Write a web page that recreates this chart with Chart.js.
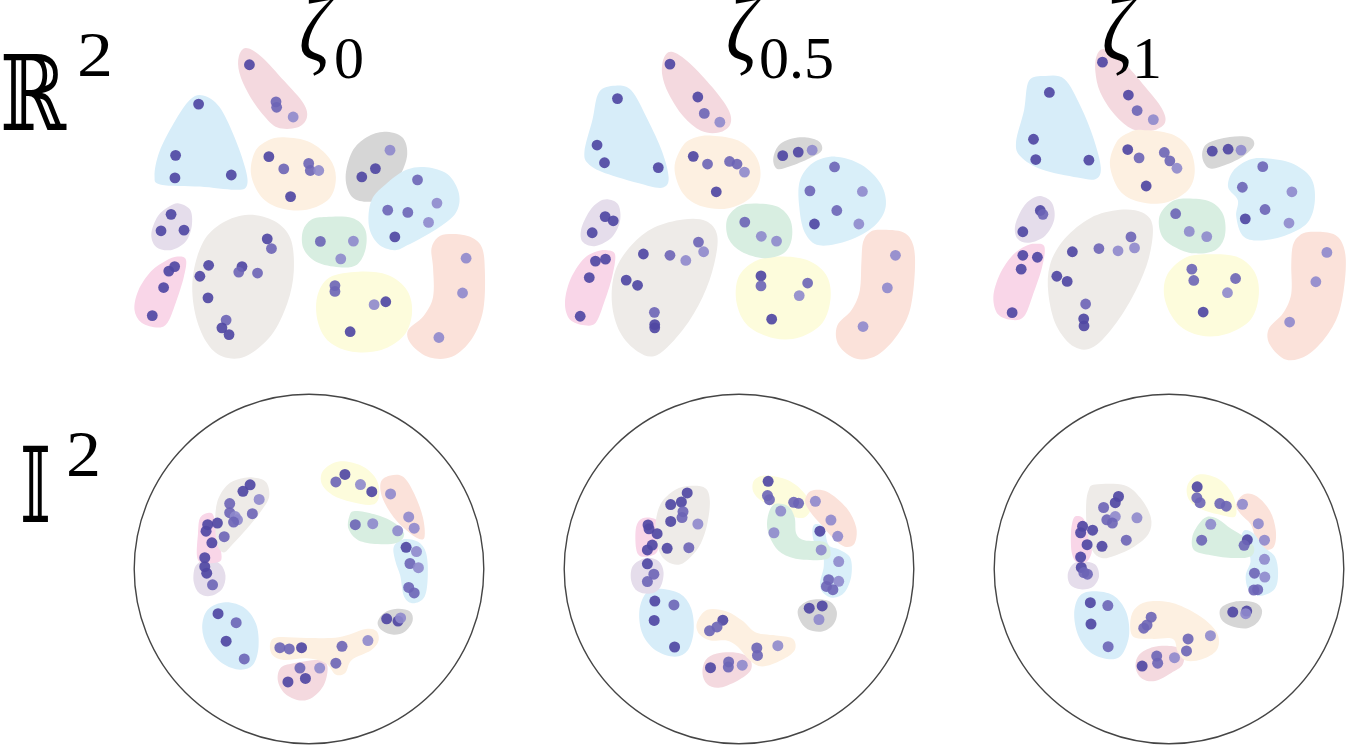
<!DOCTYPE html>
<html>
<head>
<meta charset="utf-8">
<script src="https://cdn.jsdelivr.net/npm/chart.js@4.4.0/dist/chart.umd.min.js"></script>
<style>
  body { margin: 0; background: #fff; overflow: hidden; }
  #page { position: relative; width: 1353px; height: 752px; overflow: hidden; }
  canvas { position: absolute; }
  #labels { position: absolute; left: 0; top: 0; pointer-events: none; }
</style>
</head>
<body>
<div id="page">
  <canvas id="flat0" width="380" height="330" style="left:120px;top:40px"></canvas>
  <canvas id="flat1" width="385" height="330" style="left:545px;top:40px"></canvas>
  <canvas id="flat2" width="378" height="330" style="left:975px;top:40px"></canvas>
  <canvas id="disk0" width="380" height="380" style="left:119px;top:379px"></canvas>
  <canvas id="disk1" width="380" height="380" style="left:549px;top:379px"></canvas>
  <canvas id="disk2" width="380" height="380" style="left:979px;top:379px"></canvas>
  <svg id="labels" width="1353" height="752">
    <text x="0" y="130" font-family="DejaVu Serif" font-size="104" textLength="66" lengthAdjust="spacingAndGlyphs">ℝ</text>
    <text x="77" y="76" font-family="Liberation Serif" font-size="64" textLength="36" lengthAdjust="spacingAndGlyphs">2</text>
    <text x="20" y="522" font-family="DejaVu Serif, DejaVu Sans" font-size="104" textLength="31" lengthAdjust="spacingAndGlyphs">𝕀</text>
    <text x="66" y="476" font-family="Liberation Serif" font-size="66" textLength="35" lengthAdjust="spacingAndGlyphs">2</text>
    <text x="299" y="60" font-family="Liberation Serif" font-style="italic" font-size="90" textLength="31" lengthAdjust="spacingAndGlyphs">ζ</text>
    <text x="334" y="78" font-family="Liberation Serif" font-size="60">0</text>
    <text x="726" y="60" font-family="Liberation Serif" font-style="italic" font-size="90" textLength="31" lengthAdjust="spacingAndGlyphs">ζ</text>
    <text x="759" y="78" font-family="Liberation Serif" font-size="60">0.5</text>
    <text x="1102" y="60" font-family="Liberation Serif" font-style="italic" font-size="90" textLength="31" lengthAdjust="spacingAndGlyphs">ζ</text>
    <text x="1132" y="78" font-family="Liberation Serif" font-size="60">1</text>
  </svg>
</div>
<script>
// cluster order (also the order the blobs are painted)
const clusters = ['rose', 'sky', 'peach', 'gray', 'lemon', 'salmon', 'azure', 'mint', 'lilac', 'pink', 'stone'];

// ---- R^2 panels: [x, y, shade], y grows downward ----
const flatPoints0 = [
  [[383,60,0],[465,175,1],[467,192,1],[518,222,2]],
  [[226,182,0],[155,341,0],[153,411,0],[327,402,0]],
  [[443,345,0],[489,383,1],[566,366,1],[571,388,1],[597,388,2],[510,469,0]],
  [[817,325,2],[772,382,0],[730,408,0]],
  [[647,745,1],[647,763,1],[768,804,2],[804,795,0],[694,888,0]],
  [[1052,660,2],[1041,768,2],[968,906,2]],
  [[902,417,1],[810,511,1],[872,518,1],[962,489,2],[936,549,2],[832,594,0]],
  [[602,608,1],[704,607,2],[665,662,2]],
  [[141,524,0],[110,575,0],[181,573,0]],
  [[152,686,0],[134,700,0],[118,751,0],[83,838,0]],
  [[438,600,0],[451,630,1],[257,682,0],[230,716,0],[360,686,0],[350,703,1],[408,706,1],[255,783,0],[311,852,1],[298,876,0],[320,897,0]]
];
const flatHulls0 = [
  [[372,8],[420,35],[490,110],[550,180],[560,225],[530,255],[470,255],[425,215],[380,150],[352,85],[350,35]],
  [[240,155],[290,190],[335,280],[370,380],[375,435],[340,448],[230,438],[110,432],[90,405],[105,330],[150,240],[200,168]],
  [[490,285],[570,300],[630,350],[650,410],[630,475],[560,510],[480,505],[420,470],[388,400],[400,330],[440,295]],
  [[800,268],[855,285],[870,340],[845,410],[800,470],[750,485],[700,470],[680,410],[700,330],[745,285]],
  [[720,702],[810,712],[870,760],[885,830],[860,900],[790,945],[700,950],[630,920],[595,860],[592,780],[630,720]],
  [[1000,585],[1060,592],[1100,625],[1110,700],[1105,820],[1070,910],[1010,965],[940,968],[885,930],[872,885],[920,840],[950,780],[950,690],[945,630],[965,595]],
  [[930,378],[995,400],[1030,460],[1020,520],[960,570],[870,620],[830,635],[780,615],[752,560],[760,480],[810,425],[870,385]],
  [[620,532],[700,535],[740,570],[742,630],[715,680],[660,688],[590,672],[550,630],[548,575],[575,540]],
  [[165,490],[200,510],[205,560],[185,610],[140,635],[95,625],[80,585],[100,530],[135,500]],
  [[160,655],[187,665],[180,720],[155,800],[130,860],[100,875],[50,860],[28,820],[40,760],[80,700],[125,668]],
  [[380,525],[460,545],[510,600],[520,700],[500,800],[450,900],[370,965],[300,965],[250,920],[215,830],[208,720],[240,610],[300,550]]
];

const flatPoints1 = [
  [[369,58,0],[455,160,0],[475,211,1],[523,238,2]],
  [[207,165,0],[144,309,0],[167,364,0],[333,379,0]],
  [[441,344,0],[485,368,1],[553,360,1],[576,368,1],[599,393,2],[512,454,0]],
  [[717,342,0],[765,331,0],[808,325,2]],
  [[650,715,0],[650,746,1],[794,737,1],[768,776,2],[683,849,0]],
  [[1065,651,2],[1040,752,2],[965,872,2]],
  [[877,377,1],[801,451,1],[963,453,2],[884,512,1],[815,554,0],[952,554,2]],
  [[600,548,1],[651,592,2],[698,607,2]],
  [[169,531,0],[194,544,0],[129,581,0]],
  [[139,669,0],[170,663,0],[120,720,0],[92,840,0]],
  [[287,647,0],[369,651,1],[418,667,2],[457,610,1],[473,640,2],[234,728,0],[269,744,0],[321,828,1],[322,866,0],[322,876,0]]
];
const flatHulls1 = [
  [[375,20],[430,55],[500,130],[550,200],[555,245],[520,270],[465,265],[410,220],[365,150],[345,90],[350,40]],
  [[200,125],[250,140],[300,230],[345,330],[365,410],[350,440],[300,435],[180,400],[120,370],[105,330],[130,230],[150,145]],
  [[500,280],[580,295],[635,345],[648,410],[620,470],[550,505],[470,500],[410,460],[383,380],[410,310],[450,285]],
  [[770,285],[825,295],[838,325],[800,350],[740,375],[700,383],[688,350],[710,305]],
  [[700,655],[790,665],[850,710],[865,780],[840,860],[770,905],[690,908],[610,870],[575,800],[580,720],[630,670]],
  [[1020,572],[1090,580],[1120,620],[1125,700],[1110,820],[1070,900],[1010,960],[945,972],[890,930],[885,870],[930,820],[955,760],[960,670],[965,610],[985,580]],
  [[880,345],[960,370],[1020,430],[1035,500],[1000,560],[920,605],[830,620],[785,580],[768,500],[770,420],[810,365]],
  [[630,490],[700,500],[740,540],[745,600],[720,645],[660,660],[590,640],[550,600],[545,540],[580,500]],
  [[180,478],[210,495],[215,545],[190,595],[140,622],[100,610],[95,570],[120,515],[150,485]],
  [[175,635],[200,650],[190,720],[165,800],[140,860],[105,868],[60,850],[45,800],[60,730],[100,665],[140,640]],
  [[410,540],[480,545],[515,590],[505,680],[470,780],[410,880],[330,960],[270,950],[215,890],[190,800],[200,700],[250,620],[320,565]]
];

const flatPoints2 = [
  [[377,52,0],[457,154,0],[484,202,1],[534,230,2]],
  [[213,146,0],[164,291,0],[171,354,0],[335,356,0]],
  [[455,323,0],[490,349,1],[568,332,1],[585,358,1],[607,381,2],[512,436,0]],
  [[716,328,0],[765,322,0],[805,325,2]],
  [[653,694,1],[659,729,1],[788,723,1],[763,767,2],[688,827,0]],
  [[1070,642,2],[1036,733,2],[955,858,2]],
  [[872,376,1],[809,440,1],[962,454,2],[879,509,1],[818,538,0],[953,551,2]],
  [[603,522,1],[645,577,2],[699,593,2]],
  [[185,512,0],[193,524,1],[131,578,0]],
  [[131,651,0],[176,657,0],[126,694,0],[98,829,0]],
  [[284,640,0],[366,630,1],[425,637,2],[465,594,1],[476,628,2],[236,716,0],[268,732,0],[325,802,1],[319,848,0],[320,870,0]]
];
const flatHulls2 = [
  [[385,12],[440,50],[510,130],[560,195],[570,240],[530,265],[470,260],[415,215],[370,145],[355,80],[360,30]],
  [[200,95],[260,105],[310,190],[350,290],[372,380],[355,415],[300,410],[190,385],[125,345],[110,300],[135,200],[150,110]],
  [[500,262],[590,275],[645,320],[662,390],[640,450],[570,488],[490,485],[430,450],[400,370],[420,300],[460,270]],
  [[770,284],[830,285],[845,310],[810,345],[745,375],[705,380],[685,345],[700,305]],
  [[700,648],[790,655],[845,700],[860,770],[835,850],[760,895],[680,900],[610,865],[570,790],[575,715],[630,660]],
  [[1020,578],[1090,585],[1122,625],[1128,700],[1110,820],[1070,900],[1010,960],[945,975],[895,930],[890,880],[935,830],[960,770],[960,680],[965,620],[985,590]],
  [[880,350],[960,365],[1020,410],[1033,480],[1010,550],[940,590],[860,605],[810,590],[790,530],[795,480],[765,440],[780,390],[830,355]],
  [[640,475],[710,485],[750,525],[755,590],[725,635],[660,645],[600,625],[560,590],[553,530],[590,485]],
  [[190,468],[222,490],[228,540],[200,590],[150,612],[115,600],[107,560],[130,505],[160,475]],
  [[170,615],[198,625],[190,690],[160,780],[135,840],[100,852],[55,835],[40,780],[60,710],[100,650],[140,622]],
  [[430,510],[500,518],[532,560],[520,660],[480,760],[420,860],[350,935],[290,935],[235,870],[210,770],[215,680],[260,600],[340,535]]
];

// ---- I^2 panels: disk centred on 0, boundary radius DISK_R, y grows upward ----
const DISK_R = 540;
const diskPoints0 = [
  [[-28,-306,1],[33,-306,2],[-11,-338,0],[-65,-349,0]],
  [[-281,-138,0],[-225,-166,1],[-256,-223,0],[-200,-278,1]],
  [[-90,-243,1],[-61,-247,1],[-23,-243,0],[102,-239,1],[182,-221,2],[83,-291,1]],
  [[240,-154,0],[275,-161,0],[283,-151,2]],
  [[111,292,0],[83,269,1],[159,261,2],[194,239,0]],
  [[252,232,2],[308,161,2],[325,126,2]],
  [[300,67,0],[332,54,2],[312,17,1],[338,4,2],[308,-57,1],[325,-74,1]],
  [[143,137,1],[197,140,2],[274,118,2]],
  [[-322,7,0],[-316,-13,0],[-298,-49,1]],
  [[-313,137,0],[-283,142,0],[-318,117,0],[-300,81,0],[-322,35,0]],
  [[-182,260,0],[-204,240,0],[-154,215,2],[-245,202,1],[-245,174,1],[-228,162,2],[-221,152,2],[-233,145,1],[-175,171,1],[-262,100,1]]
];
const diskHulls0 = [
  [[-48,-291],[32,-281],[57,-301],[47,-356],[12,-396],[-28,-406],[-73,-386],[-96,-346],[-88,-306]],
  [[-258,-103],[-198,-121],[-163,-171],[-156,-241],[-173,-296],[-213,-311],[-268,-291],[-313,-241],[-330,-181],[-313,-126]],
  [[-98,-211],[-8,-213],[92,-211],[172,-186],[207,-191],[215,-221],[192,-251],[132,-281],[112,-321],[82,-326],[52,-291],[-8,-276],[-78,-281],[-113,-266],[-120,-231]],
  [[272,-123],[312,-131],[320,-161],[297,-193],[262,-203],[227,-191],[212,-166],[232,-136]],
  [[92,332],[162,319],[207,279],[217,229],[197,199],[132,207],[72,229],[39,264],[44,304]],
  [[252,289],[292,284],[327,229],[352,159],[357,99],[337,94],[302,119],[262,159],[227,219],[222,269]],
  [[292,92],[337,84],[362,49],[367,-21],[357,-86],[322,-106],[294,-86],[282,-21],[267,24],[262,69]],
  [[142,179],[202,169],[262,144],[294,109],[272,81],[212,77],[152,89],[122,124],[125,164]],
  [[-308,29],[-273,14],[-258,-21],[-268,-61],[-303,-83],[-338,-76],[-356,-41],[-353,4],[-333,24]],
  [[-306,174],[-293,159],[-283,109],[-270,39],[-283,21],[-328,19],[-346,39],[-343,109],[-336,159]],
  [[-173,283],[-133,269],[-123,224],[-148,179],[-188,129],[-238,74],[-263,51],[-283,74],[-290,139],[-283,209],[-253,259],[-213,279]]
];

const diskPoints1 = [
  [[-88,-305,0],[-32,-287,1],[-33,-303,1],[10,-297,2]],
  [[-260,-99,0],[-201,-111,1],[-262,-159,0],[-199,-241,0]],
  [[-50,-158,0],[-68,-179,1],[-91,-191,1],[55,-244,1],[57,-267,1],[120,-237,2]],
  [[217,-121,0],[257,-114,0],[247,-156,2]],
  [[90,271,0],[88,227,1],[94,214,1],[169,206,1],[184,203,1]],
  [[236,209,2],[284,151,2],[305,101,2]],
  [[250,117,0],[308,23,2],[277,-33,1],[308,-38,2],[270,-54,1],[290,-64,1]],
  [[129,179,2],[108,112,2],[254,59,2]],
  [[-283,16,0],[-263,-16,1],[-283,-39,1]],
  [[-281,136,0],[-278,124,0],[-253,109,0],[-268,74,0],[-283,59,0]],
  [[-160,235,0],[-178,207,0],[-211,199,0],[-173,177,1],[-176,159,1],[-211,147,0],[-127,139,2],[-222,64,0],[-155,66,1]]
];
const diskHulls1 = [
  [[-68,-261],[-8,-259],[32,-276],[37,-311],[2,-341],[-58,-366],[-98,-356],[-113,-321],[-103,-281]],
  [[-248,-61],[-183,-76],[-148,-121],[-140,-191],[-158,-251],[-198,-271],[-258,-251],[-298,-201],[-308,-131],[-288,-76]],
  [[-98,-126],[-38,-131],[12,-161],[52,-196],[122,-206],[167,-216],[172,-251],[132,-281],[72,-301],[32,-281],[-3,-241],[-38,-221],[-88,-221],[-123,-201],[-130,-166]],
  [[222,-96],[277,-99],[302,-131],[292,-171],[257,-193],[212,-186],[187,-156],[184,-121]],
  [[82,289],[152,274],[202,234],[222,189],[202,159],[162,164],[122,189],[72,209],[44,239],[47,274]],
  [[222,241],[272,239],[332,189],[362,129],[357,79],[327,69],[292,94],[252,139],[222,174],[204,209]],
  [[237,139],[262,129],[277,74],[312,59],[344,34],[347,-21],[327,-71],[292,-89],[262,-76],[250,-46],[262,9],[257,59],[232,84],[227,124]],
  [[112,201],[152,194],[172,159],[177,109],[202,89],[262,84],[282,59],[272,31],[192,29],[132,49],[102,84],[87,129],[92,174]],
  [[-288,34],[-248,24],[-233,-11],[-243,-56],[-273,-76],[-313,-69],[-333,-36],[-328,9]],
  [[-298,157],[-258,154],[-243,129],[-248,69],[-263,44],[-303,39],[-318,64],[-318,129]],
  [[-148,257],[-103,249],[-90,209],[-98,139],[-118,79],[-148,39],[-183,14],[-223,24],[-248,59],[-258,129],[-243,199],[-198,244]]
];

const diskPoints2 = [
  [[-38,-269,1],[-35,-291,1],[-83,-300,0],[17,-274,2]],
  [[-243,-104,0],[-189,-113,1],[-241,-170,0],[-188,-240,1]],
  [[-55,-149,1],[-68,-173,1],[-78,-183,1],[128,-206,2],[59,-216,1],[54,-253,1]],
  [[197,-133,0],[240,-130,0],[237,-138,2]],
  [[87,254,0],[86,220,1],[96,205,1],[157,202,1],[177,194,1]],
  [[227,200,2],[276,140,2],[295,89,2]],
  [[242,90,0],[295,30,2],[264,-13,1],[296,-25,2],[262,-65,1],[274,-64,1]],
  [[129,138,2],[101,89,1],[232,73,1]],
  [[-271,5,0],[-263,-11,1],[-252,-16,1]],
  [[-267,132,0],[-273,112,0],[-236,120,0],[-253,75,0],[-273,37,0]],
  [[-156,224,0],[-166,205,0],[-202,190,1],[-192,152,1],[-166,162,2],[-175,142,1],[-99,158,2],[-132,89,1],[-207,70,0]]
];
const diskHulls2 = [
  [[-48,-241],[12,-239],[44,-256],[42,-296],[7,-321],[-43,-346],[-83,-339],[-103,-306],[-93,-266]],
  [[-238,-69],[-173,-81],[-133,-131],[-123,-201],[-143,-261],[-178,-279],[-238,-261],[-278,-211],[-293,-141],[-278,-86]],
  [[-68,-101],[2,-103],[72,-131],[122,-166],[152,-206],[147,-251],[102,-279],[52,-283],[27,-256],[12,-216],[-48,-216],[-108,-211],[-120,-171],[-108,-126]],
  [[202,-101],[262,-103],[287,-126],[277,-161],[242,-183],[192,-176],[162,-156],[160,-121]],
  [[92,292],[152,279],[192,239],[207,194],[202,161],[152,169],[102,184],[62,214],[57,259]],
  [[232,231],[272,224],[312,179],[330,119],[324,69],[292,61],[267,99],[252,139],[222,169],[207,199]],
  [[232,119],[262,109],[292,69],[327,39],[337,-11],[327,-61],[282,-83],[247,-66],[237,-21],[252,24],[242,59],[222,84]],
  [[117,161],[152,154],[192,124],[232,99],[262,69],[252,39],[192,34],[122,44],[77,59],[72,99],[92,139]],
  [[-268,24],[-228,14],[-216,-21],[-233,-53],[-268,-63],[-303,-51],[-313,-19],[-298,14]],
  [[-283,164],[-263,154],[-248,109],[-238,59],[-253,24],[-283,19],[-300,49],[-303,109],[-296,154]],
  [[-228,261],[-138,259],[-88,219],[-56,159],[-63,109],[-108,69],[-168,41],[-208,34],[-238,59],[-253,119],[-256,199],[-248,244]]
];

// styling
const blobColors = {
  rose: '#f4d9df', sky: '#d7edf9', peach: '#fdf0e1', gray: '#d6d6d6',
  lemon: '#fdfcdc', salmon: '#fbe2da', azure: '#d9eff9', mint: '#d8eee1',
  lilac: '#e5ddeb', pink: '#f9d6e8', stone: '#eeebe8'
};
const shadeColors = ['rgba(80,72,163,0.92)', 'rgba(108,100,182,0.9)', 'rgba(142,136,204,0.9)'];

// smooth closed curve through the hull vertices, painted under the points
const blobPlugin = {
    id: 'blobs',
    beforeDatasetsDraw(chart, args, opts) {
        const ctx = chart.ctx;
        const xs = chart.scales.x;
        const ys = chart.scales.y;
        ctx.save();
        if (opts.diskRadius)
        {
            const cx = xs.getPixelForValue(0);
            const cy = ys.getPixelForValue(0);
            const r = xs.getPixelForValue(opts.diskRadius) - cx;
            ctx.beginPath();
            ctx.arc(cx, cy, r, 0, Math.PI * 2);
            ctx.strokeStyle = '#454545';
            ctx.lineWidth = 1.4;
            ctx.stroke();
        }
        chart.data.datasets.forEach((ds, i) => {
            if (!ds.isHull) return;
            const p = chart.getDatasetMeta(i).data.map(el => [el.x, el.y]);
            const n = p.length;
            ctx.beginPath();
            ctx.moveTo(p[0][0], p[0][1]);
            for (let k = 0; k < n; k++)
            {
                const p0 = p[(k - 1 + n) % n], p1 = p[k], p2 = p[(k + 1) % n], p3 = p[(k + 2) % n];
                ctx.bezierCurveTo(
                    p1[0] + (p2[0] - p0[0]) / 6, p1[1] + (p2[1] - p0[1]) / 6,
                    p2[0] - (p3[0] - p1[0]) / 6, p2[1] - (p3[1] - p1[1]) / 6,
                    p2[0], p2[1]);
            }
            ctx.closePath();
            ctx.fillStyle = ds.backgroundColor;
            ctx.fill();
        });
        ctx.restore();
    }
};

function makePanel(id, points, hulls, xRange, yRange, flipY, diskRadius, pointRadius)
{
    const datasets = hulls.map((h, c) => ({
        isHull: true,
        label: clusters[c],
        data: h.map(v => ({x: v[0], y: v[1]})),
        backgroundColor: blobColors[clusters[c]],
        pointRadius: 0,
        showLine: false,
    }));
    datasets.push({
        label: 'embedding',
        data: points.flatMap(group => group.map(v => ({x: v[0], y: v[1], s: v[2]}))),
        backgroundColor: ctx => shadeColors[ctx.raw.s],
        borderWidth: 0,
        pointRadius: pointRadius,
    });

    return new Chart(document.getElementById(id), {
        type: 'scatter',
        data: { datasets: datasets },
        options: {
            responsive: false,
            animation: false,
            events: [],
            layout: { padding: 0 },
            scales: {
                x: { type: 'linear', min: xRange[0], max: xRange[1], display: false },
                y: { type: 'linear', min: yRange[0], max: yRange[1], reverse: flipY, display: false }
            },
            plugins: {
                legend: { display: false },
                tooltip: { enabled: false },
                blobs: { diskRadius: diskRadius }
            }
        },
        plugins: [blobPlugin]
    });
}

makePanel('flat0', flatPoints0, flatHulls0, [0, 1140], [0, 990], true, 0, 5.4);
makePanel('flat1', flatPoints1, flatHulls1, [0, 1155], [0, 990], true, 0, 5.4);
makePanel('flat2', flatPoints2, flatHulls2, [0, 1134], [0, 990], true, 0, 5.4);
makePanel('disk0', diskPoints0, diskHulls0, [-570, 570], [-570, 570], false, DISK_R, 5.5);
makePanel('disk1', diskPoints1, diskHulls1, [-570, 570], [-570, 570], false, DISK_R, 5.5);
makePanel('disk2', diskPoints2, diskHulls2, [-570, 570], [-570, 570], false, DISK_R, 5.5);
</script>
</body>
</html>
